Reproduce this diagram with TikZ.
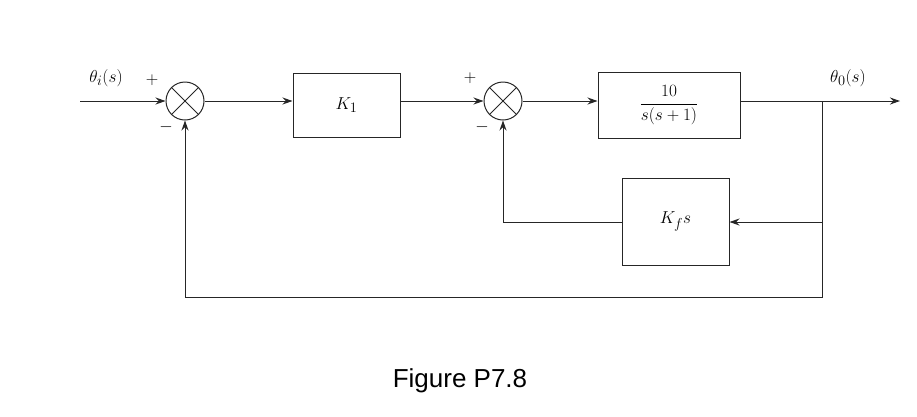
\documentclass[tikz,border=0pt]{standalone}
\usepackage{fontspec}
\newfontfamily\capfont{Liberation Sans}
\usetikzlibrary{arrows.meta}
\begin{document}
\begin{tikzpicture}[x=1pt,y=-1pt,
  line/.style={line width=1pt,draw=black!85},
  arr/.style={line,-{Stealth[length=10pt,width=7pt]}},
  blk/.style={line,draw,rectangle,inner sep=0pt},
  sum/.style={line,draw,circle,minimum size=38pt,inner sep=0pt},
  lab/.style={font=\fontsize{19}{22}\selectfont}]
\useasboundingbox (0,0) rectangle (917,416);
\coordinate (in) at (80,101);
\node[sum] (s1) at (185,101) {};
\draw[line] (s1.north west)--(s1.south east) (s1.north east)--(s1.south west);
\node[blk,minimum width=107pt,minimum height=64pt] (k1) at (346.5,105) {};
\node[lab] at (k1.center) {$K_1$};
\node[sum] (s2) at (503,101) {};
\draw[line] (s2.north west)--(s2.south east) (s2.north east)--(s2.south west);
\node[blk,minimum width=142pt,minimum height=66pt] (g) at (669,105) {};
\node[lab] at (g.center) {$\displaystyle\frac{10}{s(s+1)}$};
\node[blk,minimum width=107pt,minimum height=87pt] (kf) at (675.5,221.5) {};
\node[lab] at (kf.center) {$K_f s$};
\coordinate (br) at (822,101);
\coordinate (out) at (900,101);
\coordinate (br2) at (822,222);
\coordinate (c1) at (822,297);
\coordinate (c2) at (185,297);
\coordinate (c3) at (503,222);
\draw[arr] (in)--(s1.west);
\draw[arr] (s1.east)--(k1.west|-s1);
\draw[arr] (k1.east|-s2)--(s2.west);
\draw[arr] (s2.east)--(g.west|-s2);
\draw[arr] (g.east|-s2)--(out);
\draw[arr] (br)--(br2)--(kf.east|-br2);
\draw[arr] (kf.west|-c3)--(c3)--(s2.south);
\draw[arr] (br2)--(c1)--(c2)--(s1.south);
\node[lab] at (106,78) {$\theta_i(s)$};
\node[lab] at (152,80) {$+$};
\node[lab] at (166,127) {$-$};
\node[lab] at (470,78) {$+$};
\node[lab] at (482,127) {$-$};
\node[lab] at (848,78) {$\theta_0(s)$};
\node[font=\capfont\fontsize{26}{28}\selectfont] at (460,381) {Figure P7.8};
\end{tikzpicture}
\end{document}
